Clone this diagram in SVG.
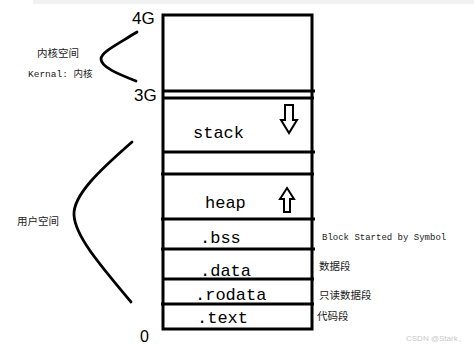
<svg xmlns="http://www.w3.org/2000/svg" width="474" height="345" viewBox="0 0 474 345">
<style>
.box{fill:#fff;stroke:#000;stroke-width:3}
.sep{stroke:#000;stroke-width:3}
.seg{font-family:"Liberation Mono","DejaVu Sans Mono",monospace;font-size:17px;fill:#000}
.addr{font-family:"Liberation Sans","Noto Sans",sans-serif;font-size:17px;fill:#000}
.note{font-family:"Liberation Sans","Noto Sans CJK SC",sans-serif;font-size:10.5px;fill:#222}
.mono{font-family:"Liberation Mono","Noto Sans CJK SC",monospace;font-size:9px;fill:#222}
.brace{fill:none;stroke:#000;stroke-width:2.8;stroke-linecap:round}
.arr{fill:#fff;stroke:#000;stroke-width:2;stroke-linejoin:miter}
</style>
<rect x="0" y="0" width="474" height="345" fill="#fff"/>
<rect x="33" y="0" width="441" height="4" fill="#f1f1f1"/>
<g id="memory">
  <rect class="box" x="163" y="15" width="149" height="314"/>
</g>
<g id="kernel">
  <line class="sep" x1="162" y1="91" x2="315" y2="91"/>
  <line class="sep" x1="162" y1="98" x2="314" y2="98"/>
</g>
<g id="stack">
  <text class="seg" x="193" y="138">stack</text>
  <path class="arr" d="M285,105 H293 V120 H297 L289,133 L281,120 H285 Z"/>
  <line class="sep" x1="162" y1="152" x2="315" y2="152"/>
</g>
<g id="gap">
  <line class="sep" x1="161" y1="174" x2="314" y2="174"/>
</g>
<g id="heap">
  <text class="seg" x="205" y="208">heap</text>
  <path class="arr" d="M287,188 L294,199 H290 V212 H284 V199 H280 Z"/>
  <line class="sep" x1="161" y1="219" x2="315" y2="219"/>
</g>
<g id="bss">
  <text class="seg" x="200" y="243">.bss</text>
  <line class="sep" x1="161" y1="249" x2="315" y2="249"/>
  <text class="mono" x="322" y="240">Block Started by Symbol</text>
</g>
<g id="data">
  <text class="seg" x="200" y="276">.data</text>
  <line class="sep" x1="162" y1="279" x2="314" y2="279"/>
  <text class="note" x="319" y="270">数据段</text>
</g>
<g id="rodata">
  <text class="seg" x="195" y="300">.rodata</text>
  <line class="sep" x1="161" y1="304" x2="314" y2="304"/>
  <text class="note" x="319" y="299">只读数据段</text>
</g>
<g id="text">
  <text class="seg" x="197" y="323">.text</text>
  <text class="note" x="317" y="320">代码段</text>
</g>
<g id="labels">
  <text class="addr" x="132" y="24">4G</text>
  <text class="addr" x="134" y="101">3G</text>
  <text class="addr" x="140" y="342" style="font-size:16px">0</text>
  <text class="note" x="37" y="57">内核空间</text>
  <text class="mono" x="28" y="77" style="font-size:9.5px">Kernal: 内核</text>
  <text class="note" x="17" y="225">用户空间</text>
  <text x="406" y="341" style="font-family:'Liberation Sans',sans-serif;font-size:8px;fill:#c8c8c8">CSDN @Stark、</text>
</g>
<g id="connectors">
  <path class="brace" d="M137,32 C118,44 101,52 101,59 C101,67 118,74 136,81"/>
  <path class="brace" d="M132,142 C100,170 73,195 74,215 C75,236 100,265 131,302"/>
</g>
</svg>
